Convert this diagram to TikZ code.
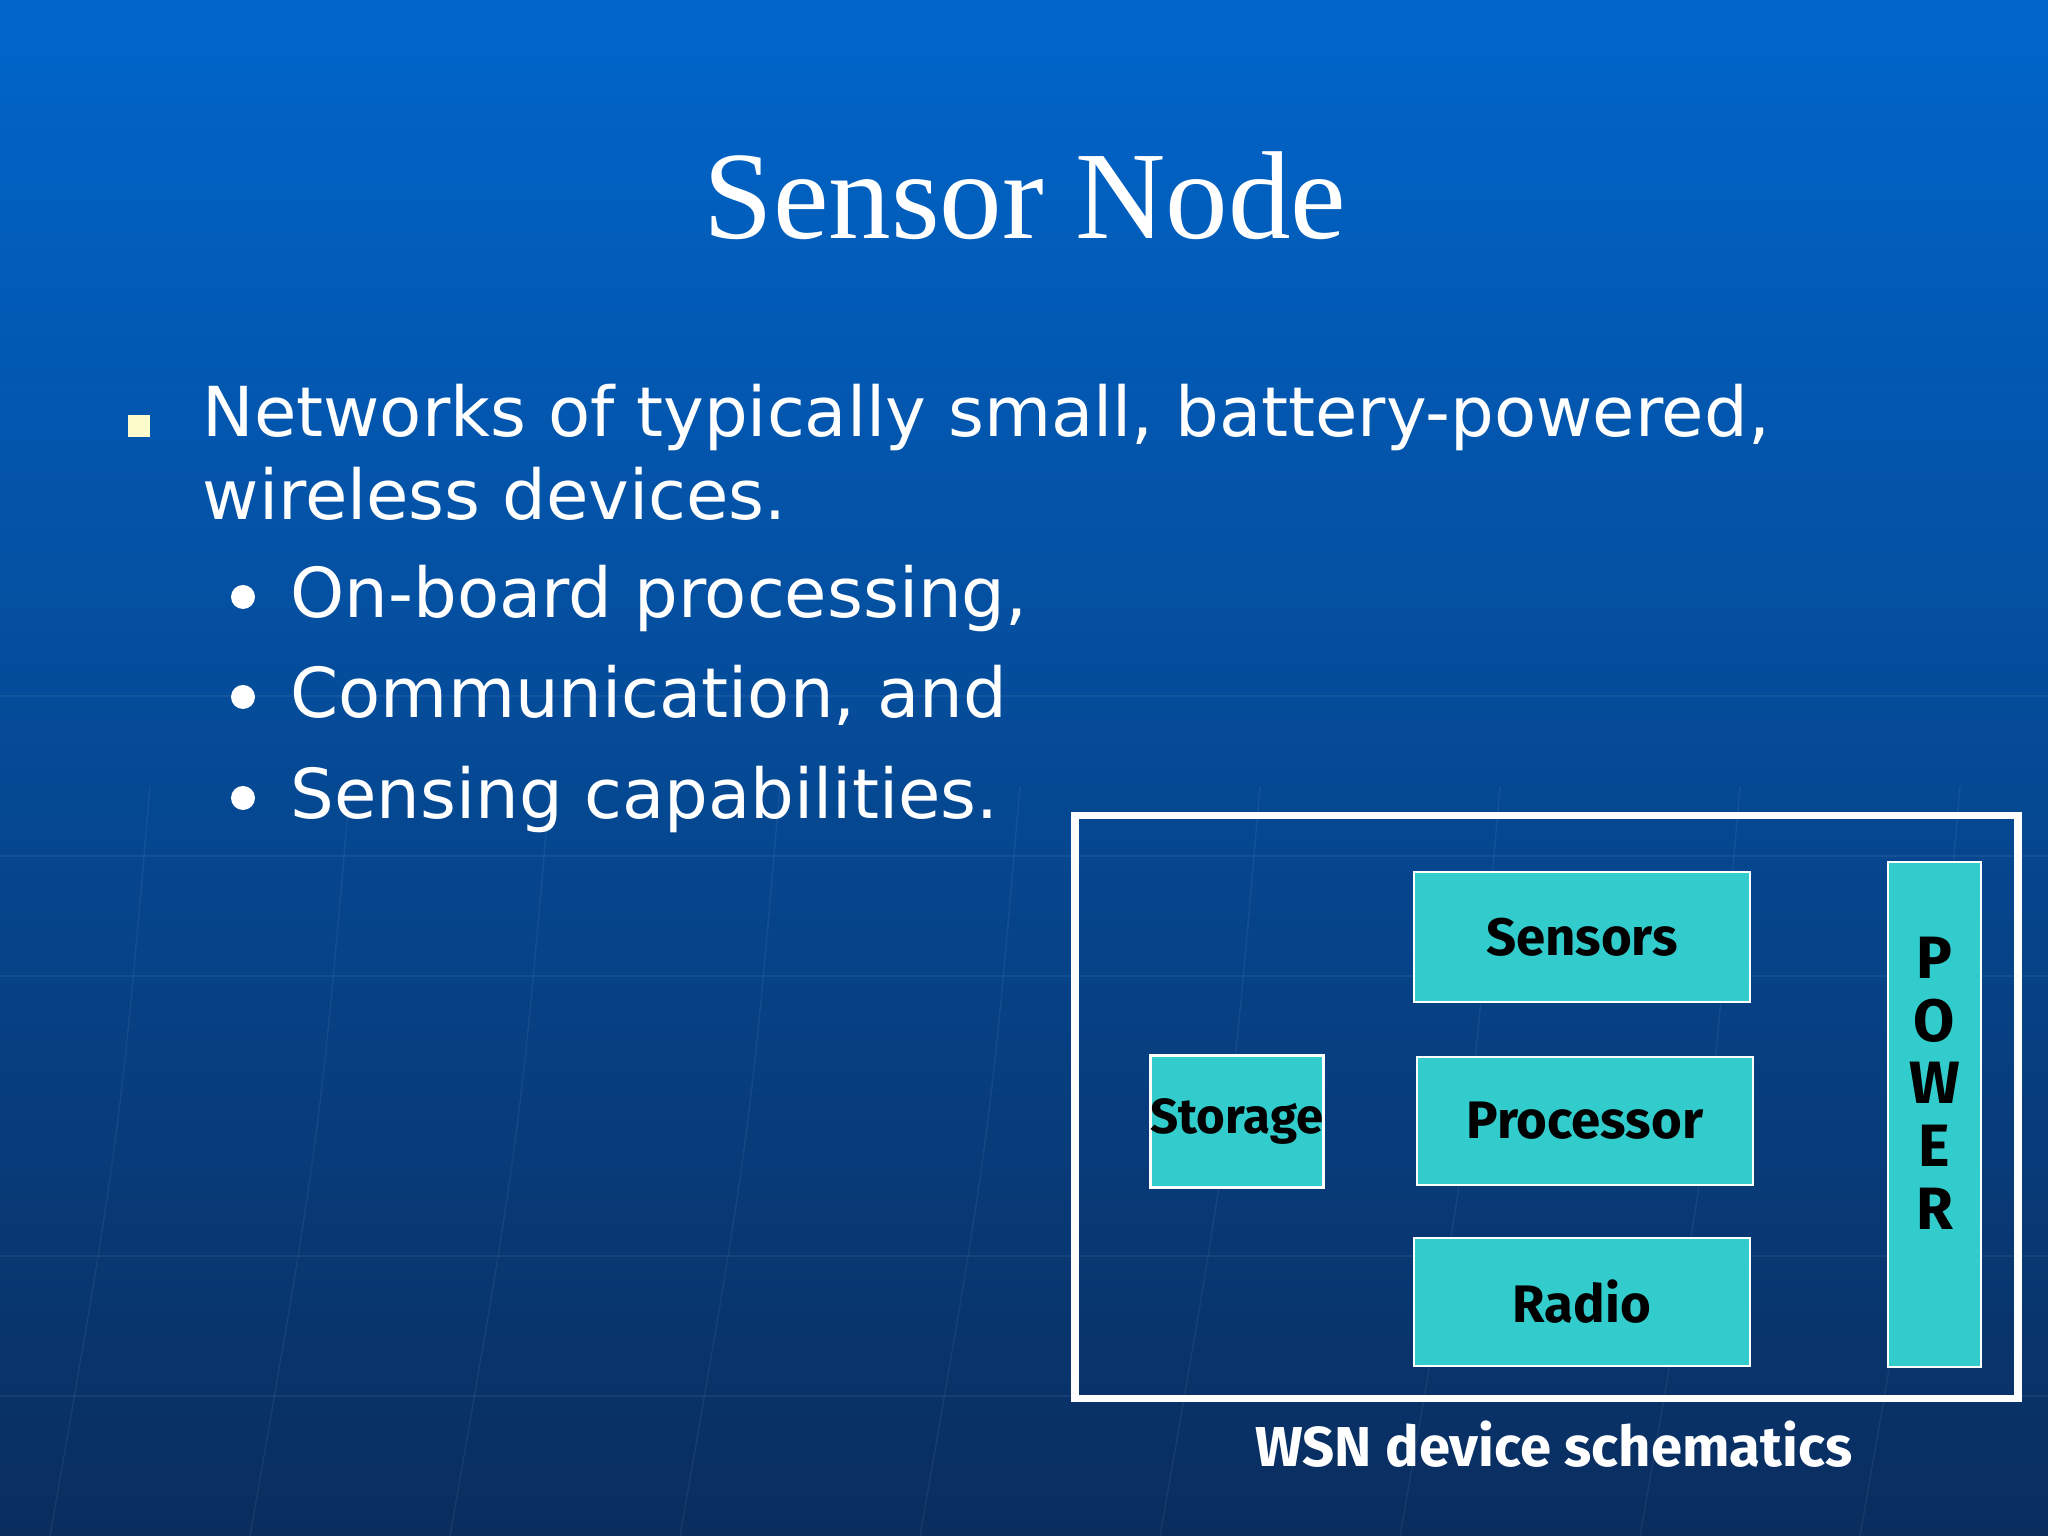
\documentclass[tikz,border=0pt]{standalone}
\usepackage{fontspec}
\setmainfont{DejaVu Sans}
\newfontfamily\titlefont{Liberation Serif}
\newfontfamily\boxfont{Fira Sans}
\usetikzlibrary{positioning}
\definecolor{topblue}{HTML}{0066CC}
\definecolor{botblue}{HTML}{0A2D5E}
\definecolor{partcol}{HTML}{33CCCC}
\tikzset{
  part/.style={draw=white,fill=partcol,line width=0.8pt,inner sep=0pt,font=\boxfont\bfseries\fontsize{15}{18}\selectfont,text=black},
  btext/.style={anchor=base west,text=white,inner sep=0pt,font=\fontsize{19.6}{23}\selectfont}
}
\begin{document}
\begin{tikzpicture}
\useasboundingbox (0,0) rectangle (20.48,15.36);
\shade[top color=topblue,bottom color=botblue] (0,0) rectangle (20.48,15.36);
% faint grid
\foreach \y in {8.4,6.8,5.6,2.8,1.4} {
\draw[white,opacity=0.06] (0,\y) -- (20.48,\y);
}
\foreach \x in {1.5,3.5,5.5,7.8,10.2,12.6,15,17.4,19.6} {
\draw[white,opacity=0.06] (\x,7.5) .. controls (\x-0.3,4) .. (\x-1,0);
}
% title
\node[text=white,font=\titlefont\fontsize{35.6}{40}\selectfont] (title) at (10.25,13.40) {Sensor Node};
% bullets
\fill[fill=yellow!20] (1.28,10.99) rectangle ++(0.22,0.22);
\node[btext] (l1) at (2.02,10.99) {Networks of typically small, battery-powered,};
\node[btext] (l2) at (2.02,10.16) {wireless devices.};
\foreach \t/\y/\n in {{On-board processing,}/9.18/s1, {Communication, and}/8.18/s2, {Sensing capabilities.}/7.17/s3} {
\fill[white] (2.43,\y+0.21) circle[radius=0.12];
\node[btext] (\n) at (2.90,\y) {\t};
}
% schematic
\draw[white,line width=2pt] (10.75,1.37) rectangle (20.18,7.20);
\node[part,minimum width=3.36cm,minimum height=1.30cm] (sensors) at (15.82,5.99) {Sensors};
\node[part,minimum width=3.36cm,minimum height=1.28cm] (proc) at (15.85,4.15) {Processor};
\node[part,minimum width=3.36cm,minimum height=1.28cm] (radio) at (15.82,2.34) {Radio};
\node[part,minimum width=1.72cm,minimum height=1.32cm,font=\boxfont\bfseries\fontsize{14}{17}\selectfont] (storage) at (12.37,4.145) {Storage};
\node[part,minimum width=0.93cm,minimum height=5.05cm,align=center,font=\boxfont\bfseries\fontsize{17}{17.8}\selectfont] (power) at (19.345,4.215) {P\\O\\W\\E\\R\\ };
\node[text=white,font=\boxfont\bfseries\fontsize{16}{19}\selectfont] (caption) at (15.54,0.92) {WSN device schematics};
\end{tikzpicture}
\end{document}
